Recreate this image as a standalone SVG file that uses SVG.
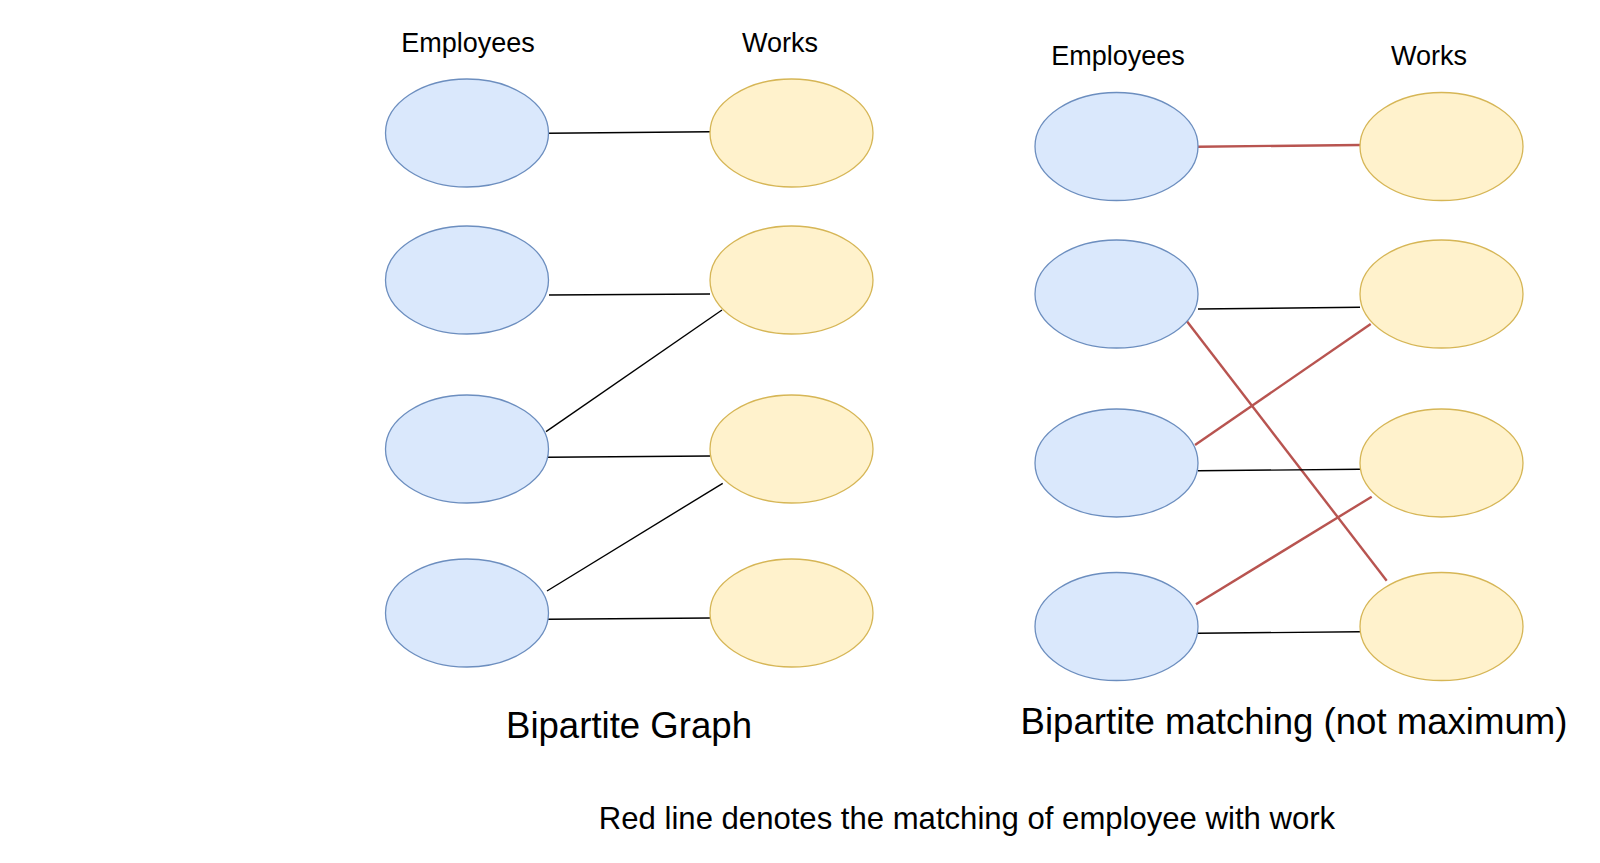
<svg xmlns="http://www.w3.org/2000/svg" width="1600" height="863" viewBox="0 0 1600 863">
<style>
.emp{fill:#dae8fc;stroke:#6c8ebf;stroke-width:1.3}
.wrk{fill:#fff2cc;stroke:#d6b656;stroke-width:1.3}
.blk{stroke:#000;stroke-width:1.4;fill:none}
.red{stroke:#b85450;stroke-width:2.4;fill:none}
text{font-family:"Liberation Sans",Arial,sans-serif;fill:#000;text-anchor:middle}
.hd{font-size:27px}
.tt{font-size:36.6px}
.nt{font-size:31.1px}
</style>
<rect width="1600" height="863" fill="#fff"/>
<g id="labels">
<text class="hd" x="468" y="51.5">Employees</text>
<text class="hd" x="780" y="51.5">Works</text>
<text class="hd" x="1118" y="65">Employees</text>
<text class="hd" x="1429" y="65">Works</text>
<text class="tt" x="629" y="737.5">Bipartite Graph</text>
<text class="tt" x="1294" y="733.5">Bipartite matching (not maximum)</text>
<text class="nt" x="967" y="829">Red line denotes the matching of employee with work</text>
</g>
<g id="connectors">
<line class="blk" x1="548" y1="133.3" x2="710" y2="131.7"/>
<line class="blk" x1="549" y1="295" x2="710" y2="294"/>
<line class="blk" x1="546" y1="431.6" x2="722" y2="310"/>
<line class="blk" x1="548" y1="457.3" x2="710" y2="456"/>
<line class="blk" x1="547" y1="591" x2="722.7" y2="483.3"/>
<line class="blk" x1="548" y1="619.3" x2="710" y2="618"/>
<line class="red" x1="1198" y1="146.7" x2="1360" y2="145"/>
<line class="blk" x1="1198" y1="309" x2="1360" y2="307.3"/>
<line class="red" x1="1186.7" y1="321" x2="1386.7" y2="580.7"/>
<line class="red" x1="1195" y1="445" x2="1370.7" y2="324"/>
<line class="blk" x1="1198" y1="470.7" x2="1360" y2="469.3"/>
<line class="red" x1="1196" y1="604.3" x2="1371.7" y2="496.7"/>
<line class="blk" x1="1198" y1="633.3" x2="1360" y2="631.7"/>
</g>
<g id="e1"><ellipse class="emp" cx="467" cy="133" rx="81.5" ry="54"/></g>
<g id="e2"><ellipse class="emp" cx="467" cy="280" rx="81.5" ry="54"/></g>
<g id="e3"><ellipse class="emp" cx="467" cy="449" rx="81.5" ry="54"/></g>
<g id="e4"><ellipse class="emp" cx="467" cy="613" rx="81.5" ry="54"/></g>
<g id="w1"><ellipse class="wrk" cx="791.5" cy="133" rx="81.5" ry="54"/></g>
<g id="w2"><ellipse class="wrk" cx="791.5" cy="280" rx="81.5" ry="54"/></g>
<g id="w3"><ellipse class="wrk" cx="791.5" cy="449" rx="81.5" ry="54"/></g>
<g id="w4"><ellipse class="wrk" cx="791.5" cy="613" rx="81.5" ry="54"/></g>
<g id="me1"><ellipse class="emp" cx="1116.5" cy="146.5" rx="81.5" ry="54"/></g>
<g id="me2"><ellipse class="emp" cx="1116.5" cy="294" rx="81.5" ry="54"/></g>
<g id="me3"><ellipse class="emp" cx="1116.5" cy="463" rx="81.5" ry="54"/></g>
<g id="me4"><ellipse class="emp" cx="1116.5" cy="626.5" rx="81.5" ry="54"/></g>
<g id="mw1"><ellipse class="wrk" cx="1441.5" cy="146.5" rx="81.5" ry="54"/></g>
<g id="mw2"><ellipse class="wrk" cx="1441.5" cy="294" rx="81.5" ry="54"/></g>
<g id="mw3"><ellipse class="wrk" cx="1441.5" cy="463" rx="81.5" ry="54"/></g>
<g id="mw4"><ellipse class="wrk" cx="1441.5" cy="626.5" rx="81.5" ry="54"/></g>
</svg>
